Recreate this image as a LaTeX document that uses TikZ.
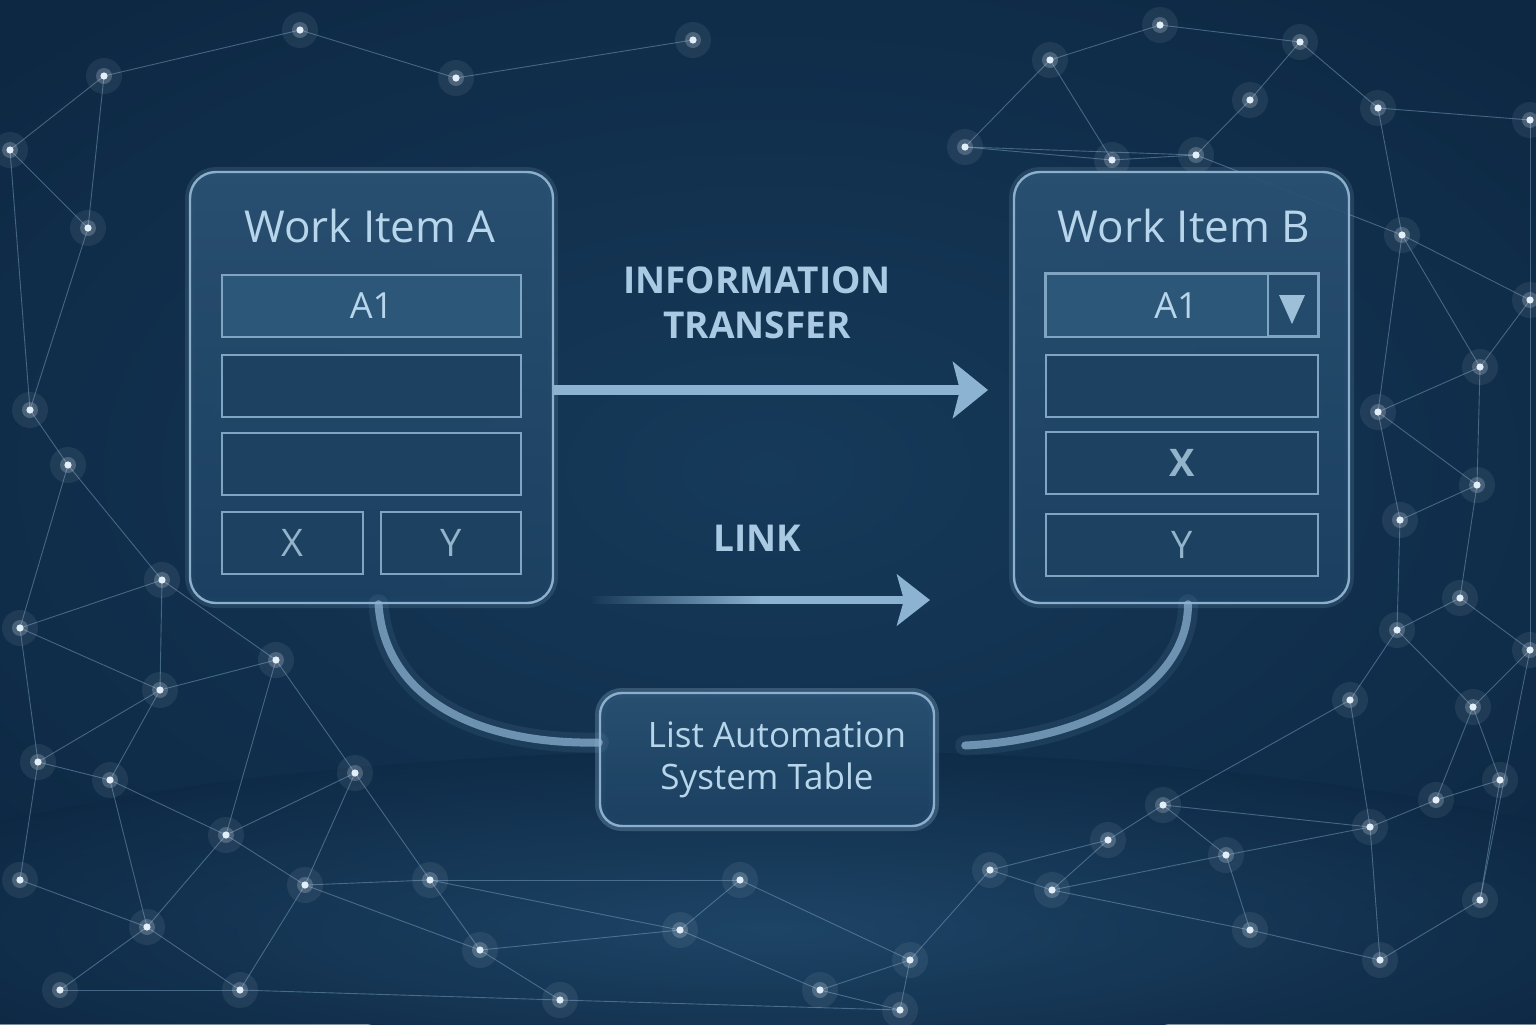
\documentclass[tikz,border=0pt]{standalone}
\usepackage{fontspec}
\setmainfont{Open Sans}
\usetikzlibrary{arrows.meta,calc,fadings}

\definecolor{bgbase}{HTML}{0D2843}
\definecolor{bgmid}{HTML}{163A5A}
\definecolor{bghaze}{HTML}{2A587E}
\definecolor{netc}{HTML}{86ADCE}
\definecolor{dotc}{HTML}{E2EEF8}
\definecolor{cardtop}{HTML}{2A5173}
\definecolor{cardbot}{HTML}{1C4162}
\definecolor{edge}{HTML}{8BB0CD}
\definecolor{fedge}{HTML}{7FA5C3}
\definecolor{fieldc}{HTML}{1D4161}
\definecolor{fieldhi}{HTML}{2D5778}
\definecolor{fieldmid}{HTML}{244B6B}
\definecolor{txt}{HTML}{B8D6EB}
\definecolor{capc}{HTML}{A9CAE2}
\definecolor{txtdim}{HTML}{93B3CB}
\definecolor{arrowc}{HTML}{8DB3D2}
\definecolor{trianglec}{HTML}{9DBFD8}

\tikzfading[name=linkfade, left color=transparent!100, right color=transparent!0]

\begin{document}
\begin{tikzpicture}[x=0.5pt,y=-0.5pt,
  netline/.style={draw=netc, line width=0.45pt, opacity=0.45},
  card/.style={draw=edge, line width=1.2pt, rounded corners=13pt, top color=cardtop, bottom color=cardbot, fill opacity=0.93, inner sep=0pt,
     preaction={draw=edge, line width=5pt, draw opacity=0.16, rounded corners=13pt}},
  field/.style={draw=fedge, line width=1pt, fill=fieldc, inner sep=0pt, minimum height=31pt, text=txt, font=\fontsize{18pt}{20pt}\selectfont},
  title/.style={text=txt, font=\fontsize{22pt}{26pt}\selectfont, inner sep=0pt},
  caps/.style={text=capc, font=\bfseries\fontsize{18.5pt}{22.5pt}\selectfont, inner sep=0pt, align=center},
  flow/.style={draw=arrowc, line width=5pt, -{Stealth[length=17.5pt,width=28pt,inset=3.5pt]}},
  linkshaft/.style={draw=arrowc, line width=4pt, path fading=linkfade},
  linkhead/.style={draw=arrowc, line width=4pt, -{Stealth[length=16.5pt,width=25.5pt,inset=3.5pt]}},
  bendline/.style={draw=arrowc, line width=4pt, draw opacity=0.72, line cap=round},
  bendglow/.style={draw=arrowc, line width=10pt, draw opacity=0.1, line cap=round},
]
\useasboundingbox (0,0) rectangle (1536,1024);
\clip (0,0) rectangle (1536,1024);

% background
\fill[bgbase] (0,0) rectangle (1536,1024);
\shade[inner color=bgmid, outer color=bgbase] (768,470) ellipse [x radius=520pt, y radius=300pt];
\shade[inner color=bghaze, outer color=bgbase, opacity=0.55] (768,930) ellipse [x radius=480pt, y radius=90pt];

% network
\foreach \n/\x/\y in {1/104/76, 2/88/228, 3/30/410, 4/68/465, 5/162/580, 6/20/628, 7/160/690, 8/38/762, 9/110/780,
  10/276/660, 11/355/773, 12/226/835, 13/305/885, 14/430/880, 15/147/927, 16/60/990, 17/480/950, 18/560/1000,
  19/680/930, 20/740/880, 21/820/990, 22/910/960, 23/990/870, 24/1052/890, 25/1108/840, 26/1163/805, 27/1226/855,
  28/1250/930, 29/1370/827, 30/1436/800, 31/1500/780, 32/1473/707, 33/1397/630, 34/1460/598, 35/1530/650,
  36/1477/485, 37/1400/520, 38/1378/412, 39/1480/367, 40/1530/300, 41/1402/235, 42/1378/108, 43/1300/42,
  44/1160/25, 45/1196/155, 46/1112/160, 47/965/147, 48/456/78, 49/693/40, 50/1380/960, 51/1480/900, 52/240/990,
  53/20/880, 54/1530/120, 55/1250/100, 56/1050/60, 57/300/30, 58/10/150, 59/1350/700, 60/900/1010}
  \coordinate (p\n) at (\x,\y);
\foreach \a/\b in {1/58,1/2,2/58,2/3,3/4,4/5,4/6,5/7,6/7,6/8,7/8,7/9,8/9,5/10,7/10,10/11,9/12,11/12,12/13,11/13,
  13/14,11/14,9/15,12/15,15/16,8/53,53/15,13/52,15/52,14/17,17/18,17/19,19/20,20/14,19/21,21/22,20/22,22/23,
  23/24,24/25,25/26,26/27,27/28,24/28,28/50,27/29,29/30,30/31,29/50,50/51,51/31,30/32,32/31,32/33,33/34,34/35,
  32/35,33/59,59/29,59/26,33/37,37/36,36/34,36/38,38/37,38/39,39/40,39/36,41/39,41/38,41/42,42/43,43/44,42/54,
  54/40,43/55,55/45,45/46,46/47,45/41,44/56,56/46,47/56,48/57,1/57,49/48,22/60,60/18,18/52,21/60,23/25,16/52,
  10/12,3/58,35/40,51/35,14/19,24/27,26/29,13/17,5/6,40/41,47/45}
  \draw[netline] (p\a) -- (p\b);
\foreach \n in {1,...,60} {
  \fill[dotc, opacity=0.08] (p\n) circle (9pt);
  \fill[dotc, opacity=0.22] (p\n) circle (4pt);
  \fill[dotc] (p\n) circle (1.8pt);
}

% cards
\node[card, minimum width=181.5pt, minimum height=215.5pt] (bA) at (371.5,387.5) {};
\node[card, minimum width=167.5pt, minimum height=215.5pt] (bB) at (1181.5,387.5) {};
\node[card, minimum width=167pt, minimum height=66.5pt, rounded corners=11pt,
  preaction={draw=edge, line width=5pt, draw opacity=0.16, rounded corners=11pt},
  text=txt, align=center, font=\fontsize{17.5pt}{21pt}\selectfont, text opacity=1] (lst) at (767,759.5)
  {\hspace*{10pt}List Automation\\System Table};

% curved links to list table
\draw[bendglow] ([xshift=3.5pt]bA.south) .. controls (385,700) and (480,745) .. ([yshift=8.5pt]lst.west);
\draw[bendline] ([xshift=3.5pt]bA.south) .. controls (385,700) and (480,745) .. ([yshift=8.5pt]lst.west);
\draw[bendglow] ([xshift=3.25pt]bB.south) .. controls (1188,690) and (1080,740) .. ([xshift=15pt,yshift=7pt]lst.east);
\draw[bendline] ([xshift=3.25pt]bB.south) .. controls (1188,690) and (1080,740) .. ([xshift=15pt,yshift=7pt]lst.east);

% Work item A
\node[title] (tA) at (370,226) {Work Item A};
\node[field, fill=fieldhi, minimum width=149.5pt] (a1) at (371.5,306) {A1};
\node[field, minimum width=149.5pt] (a2) at (371.5,385.5) {};
\node[field, minimum width=149.5pt] (a3) at (371.5,463.5) {};
\node[field, minimum width=70.5pt, text=txtdim, font=\fontsize{19pt}{21pt}\selectfont] (ax) at (292.5,542.5) {X};
\node[field, minimum width=70pt, text=txtdim, font=\fontsize{19pt}{21pt}\selectfont] (ay) at (451,542.5) {Y};

% Work item B
\node[title] (tB) at (1184,226) {Work Item B};
\node[field, fill=fieldmid, minimum width=136pt] (b1) at (1182,305) {};
\fill[fieldhi] (1046.5,274.5) rectangle (1268,335.5);
\draw[fedge, line width=1pt] (b1.north west) rectangle (b1.south east);
\draw[fedge, line width=1pt] (1268,274) -- (1268,336);
\node[text=txt, font=\fontsize{18pt}{20pt}\selectfont, inner sep=0pt] (b1t) at (1176,306) {A1};
\fill[trianglec] (1279,295) -- (1305,295) -- (1292,324) -- cycle;
\node[field, minimum width=136pt] (b2) at (1182,385.5) {};
\node[field, minimum width=136pt, text=txtdim, font=\bfseries\fontsize{19pt}{21pt}\selectfont] (bx) at (1182,463) {X};
\node[field, minimum width=136pt, text=txtdim, font=\fontsize{19pt}{21pt}\selectfont] (by) at (1182,544.5) {Y};

% labels
\node[caps] (info) at (757,302.5) {INFORMATION\\TRANSFER};
\node[caps] (link) at (757,538) {LINK};

% arrows
\coordinate (tipI) at (988,390);
\draw[flow] (bA.east |- tipI) -- (tipI);
\coordinate (linkS) at (592,600);
\coordinate (linkM) at (760,600);
\coordinate (linkE) at (930,600);
\draw[linkshaft] (linkS) -- (linkM);
\draw[linkhead] (linkM) -- (linkE);
\end{tikzpicture}
\end{document}
